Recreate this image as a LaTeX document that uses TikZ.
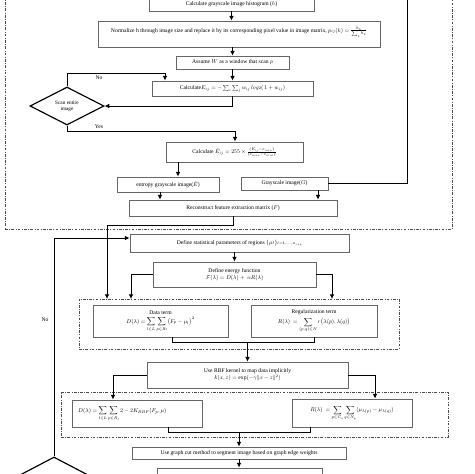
\RequirePackage{fix-cm}
\documentclass[tikz,border=0pt]{standalone}
\usepackage{fontspec}
\setmainfont{Liberation Serif}
\usetikzlibrary{arrows.meta,shapes.geometric,calc}

\begin{document}
\begin{tikzpicture}[
    x=0.06cm,y=-0.06cm,
    linea/.style={draw=black,line width=1.5pt},
    freccia/.style={linea,-{Latex[length=8pt,width=8pt]}},
    scatola/.style={draw=black!60,line width=1.4pt,inner sep=3pt,align=center,
                    font=\fontsize{9.6}{11.6}\selectfont},
    rombo/.style={diamond,draw=black,line width=2pt,inner sep=0pt,align=center,
                  font=\fontsize{9}{10.8}\selectfont},
    riquadro/.style={draw=black!70,line width=1.3pt,inner sep=0pt,outer sep=0pt,
                     dash pattern=on 4.8pt off 2.4pt on 1.2pt off 2.4pt},
    etichetta/.style={inner sep=0pt,font=\fontsize{9.6}{11.6}\selectfont}]

  \useasboundingbox (0,0) rectangle (474,474);
  \clip (0,0) rectangle (474,474);

  % ---- riquadri tratteggiati -------------------------------------------
  \node[riquadro,minimum width=26.82cm,minimum height=14.34cm] (estrazione)     at (228.5,109.5) {};
  \node[riquadro,minimum width=19.20cm,minimum height=3.00cm]  (energiaTermini) at (239,324)     {};
  \node[riquadro,minimum width=23.22cm,minimum height=2.70cm]  (kernelTermini)  at (254.5,414.5) {};

  % ---- estrazione delle caratteristiche --------------------------------
  \node[scatola,minimum width=9.90cm,minimum height=0.84cm] (istogramma) at (231.5,4)
    {Calculate grayscale image histogram ($h$)};
  \node[scatola,minimum width=16.92cm,minimum height=1.56cm] (normalizza) at (239,34)
    {Normalize h through image size and replace it by its corresponding pixel value in image matrix, $p_{ij}(k)=\frac{h_k}{\sum_k h_k}$\\[4pt]\mbox{}};
  \node[scatola,minimum width=6.78cm,minimum height=0.78cm] (finestra) at (232.5,62.5)
    {Assume $W$ as a window that scan $p$};
  \node[scatola,minimum width=9.66cm,minimum height=0.90cm] (entropia) at (232.5,88.5)
    {Calculate$E_{ij}=-\sum_i\sum_j w_{ij}\,log_2(\,1+w_{ij})$};
  \node[rombo,minimum width=4.44cm,minimum height=2.28cm] (scansione) at (67,106)
    {Scan entire\\image};
  \node[scatola,minimum width=8.22cm,minimum height=1.20cm] (normE) at (234.5,152)
    {Calculate $\hat{E}_{ij}=255\times\frac{(E_{ij}-e_{min})}{(e_{max}-e_{min})}$};
  \node[scatola,minimum width=6.12cm,minimum height=0.90cm] (immEntropia) at (168,184.5)
    {entropy grayscale image($\hat{E}$)};
  \node[scatola,minimum width=5.22cm,minimum height=0.78cm] (immGrigi) at (284.5,183.5)
    {Grayscale image($G$)};
  \node[scatola,minimum width=12.48cm,minimum height=0.96cm] (matrice) at (233,208)
    {Reconstruct feature extraction matrix ($F$)};

  % ---- segmentazione ---------------------------------------------------
  \node[scatola,minimum width=13.14cm,minimum height=1.08cm] (parametri) at (239.5,243)
    {Define statistical parameters of regions $\{\mu_l\}_{l=1,\dots,n_{reg}}$};
  \node[scatola,minimum width=9.78cm,minimum height=1.50cm] (energia) at (234.5,274.5)
    {Define energy function\\$\mathcal{F}(\lambda)=D(\lambda)+\ \alpha R(\lambda)$};
  \node[scatola,minimum width=8.10cm,minimum height=1.92cm] (dati) at (160.5,321)
    {Data term\\[4pt]$\displaystyle D(\lambda)=\sum_{l\in L}\sum_{p\in R_l}\bigl(F_p-\mu_l\bigr)^2$};
  \node[scatola,minimum width=7.56cm,minimum height=1.92cm] (regolare) at (314,321)
    {Regularization term\\[4pt]$\displaystyle R(\lambda)\ =\sum_{(p,q)\in N} r\bigl(\lambda(p),\lambda(q)\bigr)$};
  \node[scatola,minimum width=12.06cm,minimum height=1.56cm] (nucleo) at (247.5,375)
    {Use RBF kernel to map data implicitly\\$k(x,z)=\exp(-\gamma\|x-z\|^2)$};
  \node[scatola,minimum width=7.80cm,minimum height=1.62cm,inner xsep=10pt,
        text width=7.05cm,align=left] (datiRBF) at (137,413.5)
    {$\displaystyle D(\lambda)=\sum_{l\in L}\sum_{p\in R_l}2-2K_{RBF}(F_p,\mu)$};
  \node[scatola,minimum width=7.20cm,minimum height=1.68cm] (regolareRBF) at (352,413)
    {$\displaystyle R(\lambda)\ =\sum_{p\in C_a}\sum_{q\in N_p}(\mu_{\lambda(p)}-\mu_{\lambda(q)})$};
  \node[scatola,minimum width=12.84cm,minimum height=0.72cm] (taglio) at (239,453)
    {Use graph cut method to segment image based on graph edge weights};
  \node[scatola,minimum width=9.90cm,minimum height=1.32cm] (ultimo) at (239.5,479) {};
  \node[rombo,minimum width=4.80cm,minimum height=2.52cm] (converge) at (54,478)
    {converge};

  % ---- etichette -------------------------------------------------------
  \node[etichetta] (noA) at (99,78)  {No};
  \node[etichetta] (si)  at (99,127) {Yes};
  \node[etichetta] (noB) at (45,320) {No};

  % ---- frecce: parte superiore -----------------------------------------
  \draw[freccia] (istogramma.south) -- (istogramma.south |- normalizza.north);
  \draw[freccia] (finestra.north |- normalizza.south) -- (finestra.north);
  \draw[freccia] (finestra.south) -- (entropia.north);
  \draw[freccia] (entropia.south) |- (scansione.east);

  % (a) ramo "No": si ricalcola l'entropia
  \coordinate (giroNo) at (165,73);
  \draw[freccia] (scansione.north) |- (giroNo) -- (giroNo |- entropia.north);

  % (b) ramo "Yes": normalizzazione di E
  \coordinate (giroSi) at (235,131);
  \draw[freccia] (scansione.south) |- (giroSi) -- (giroSi |- normE.north);

  \coordinate (inEntropia) at ($(immEntropia.north)+(10,0)$);
  \draw[freccia] (normE.south -| inEntropia) -- (inEntropia);
  \coordinate (suGrigi) at (407,-10);
  \draw[linea] (immGrigi.east) -| (suGrigi);
  \draw[freccia] ($(immEntropia.south)+(-8,0)$) coordinate (m1) -- (m1 |- matrice.north);
  \draw[freccia] ($(immGrigi.south)+(33.5,0)$) coordinate (m2) -- (m2 |- matrice.north);

  % ---- frecce: parte inferiore -----------------------------------------
  \draw[freccia] (matrice.south) -- ++(0,9) -| ($(energiaTermini.north)+(-132,0)$);
  \draw[freccia] (converge.north) |- ($(parametri.west)+(0,-5)$);
  \draw[freccia] (energia.north |- parametri.south) -- (energia.north);
  \draw[freccia] (energia.west) -| ($(energiaTermini.north)+(-108,0)$);
  \draw[freccia] (energia.east) -| ($(energiaTermini.north)+(93,0)$);

  \coordinate (giuntoA) at ($(nucleo.north)+(0,-19)$);
  \draw[linea] ($(dati.south)+(11.5,0)$) |- (giuntoA) -| (regolare.south);
  \draw[freccia] (giuntoA) -- (nucleo.north);
  \draw[freccia] (nucleo.west) -| ($(datiRBF.north)+(-24,0)$);
  \draw[freccia] (nucleo.east) -| ($(regolareRBF.north)+(23,0)$);

  \coordinate (giuntoB) at ($(taglio.north)+(0,-14)$);
  \draw[linea] ($(datiRBF.south)+(31,0)$) |- (giuntoB) -| ($(regolareRBF.south)+(-42,0)$);
  \draw[freccia] (giuntoB) -- (taglio.north);
  \draw[freccia] (taglio.south) -- (ultimo.north -| taglio.south);

\end{tikzpicture}
\end{document}
